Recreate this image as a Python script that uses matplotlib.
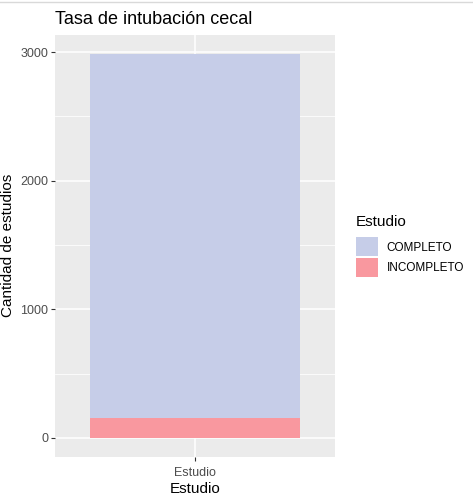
import matplotlib.pyplot as plt
from matplotlib.patches import Patch
from matplotlib.lines import Line2D

plt.rcParams['font.family'] = ['Liberation Sans', 'DejaVu Sans']

# data
categorias = ['COMPLETO', 'INCOMPLETO']
valores = [2834, 153]
colores = ['#C6CDE8', '#F9989F']
x_label = 'Estudio'

W, H = 473, 503
fig = plt.figure(figsize=(W / 100, H / 100), dpi=100)
ax = fig.add_axes([55 / W, (H - 457) / H, 280 / W, (457 - 34.7) / H])
ax.set_facecolor('#EBEBEB')

# stacked bar, INCOMPLETO at bottom
base = 0
for cat, val, col in reversed(list(zip(categorias, valores, colores))):
    ax.bar([1], [val], bottom=base, width=0.9, color=col, zorder=2)
    base += val

total = sum(valores)
ax.set_xlim(0.4, 1.6)
ax.set_ylim(-0.05 * total, total * 1.05)

ax.set_yticks([0, 1000, 2000, 3000])
ax.set_yticks([500, 1500, 2500], minor=True)
ax.set_xticks([1])
ax.set_xticklabels([x_label])
ax.grid(which='major', color='white', linewidth=1.1, zorder=0)
ax.grid(which='minor', axis='y', color='white', linewidth=0.55, zorder=0)
ax.set_axisbelow(True)
for s in ax.spines.values():
    s.set_visible(False)
ax.tick_params(which='major', length=3, color='#333333', labelcolor='#4D4D4D',
               labelsize=9, pad=2)
ax.tick_params(axis='x', pad=4)
ax.tick_params(which='minor', length=0)

ax.set_xlabel('Estudio', fontsize=11, color='black', labelpad=2.5)
ax.set_ylabel('Cantidad de estudios', fontsize=11, color='black', labelpad=4)
fig.text(55 / W, 1 - 20 / H, 'Tasa de intubación cecal', fontsize=13,
         va='center', ha='left')

# legend
handles = [Patch(facecolor=c, edgecolor='none') for c in colores]
leg = fig.legend(handles, categorias, title='Estudio', loc='upper left',
                 bbox_to_anchor=(356 / W, 1 - 215 / H), frameon=False,
                 fontsize=8.5, title_fontsize=11, handlelength=1.9,
                 handleheight=2.1, handletextpad=0.7, labelspacing=0.12,
                 borderaxespad=0, borderpad=0)
leg._legend_box.align = 'left'
leg._legend_box.sep = 6

# top border line of the window
fig.add_artist(Line2D([0, 1], [1 - 2 / H, 1 - 2 / H], color='#D9D9D9', lw=1))

fig.savefig('out.png', dpi=100)
